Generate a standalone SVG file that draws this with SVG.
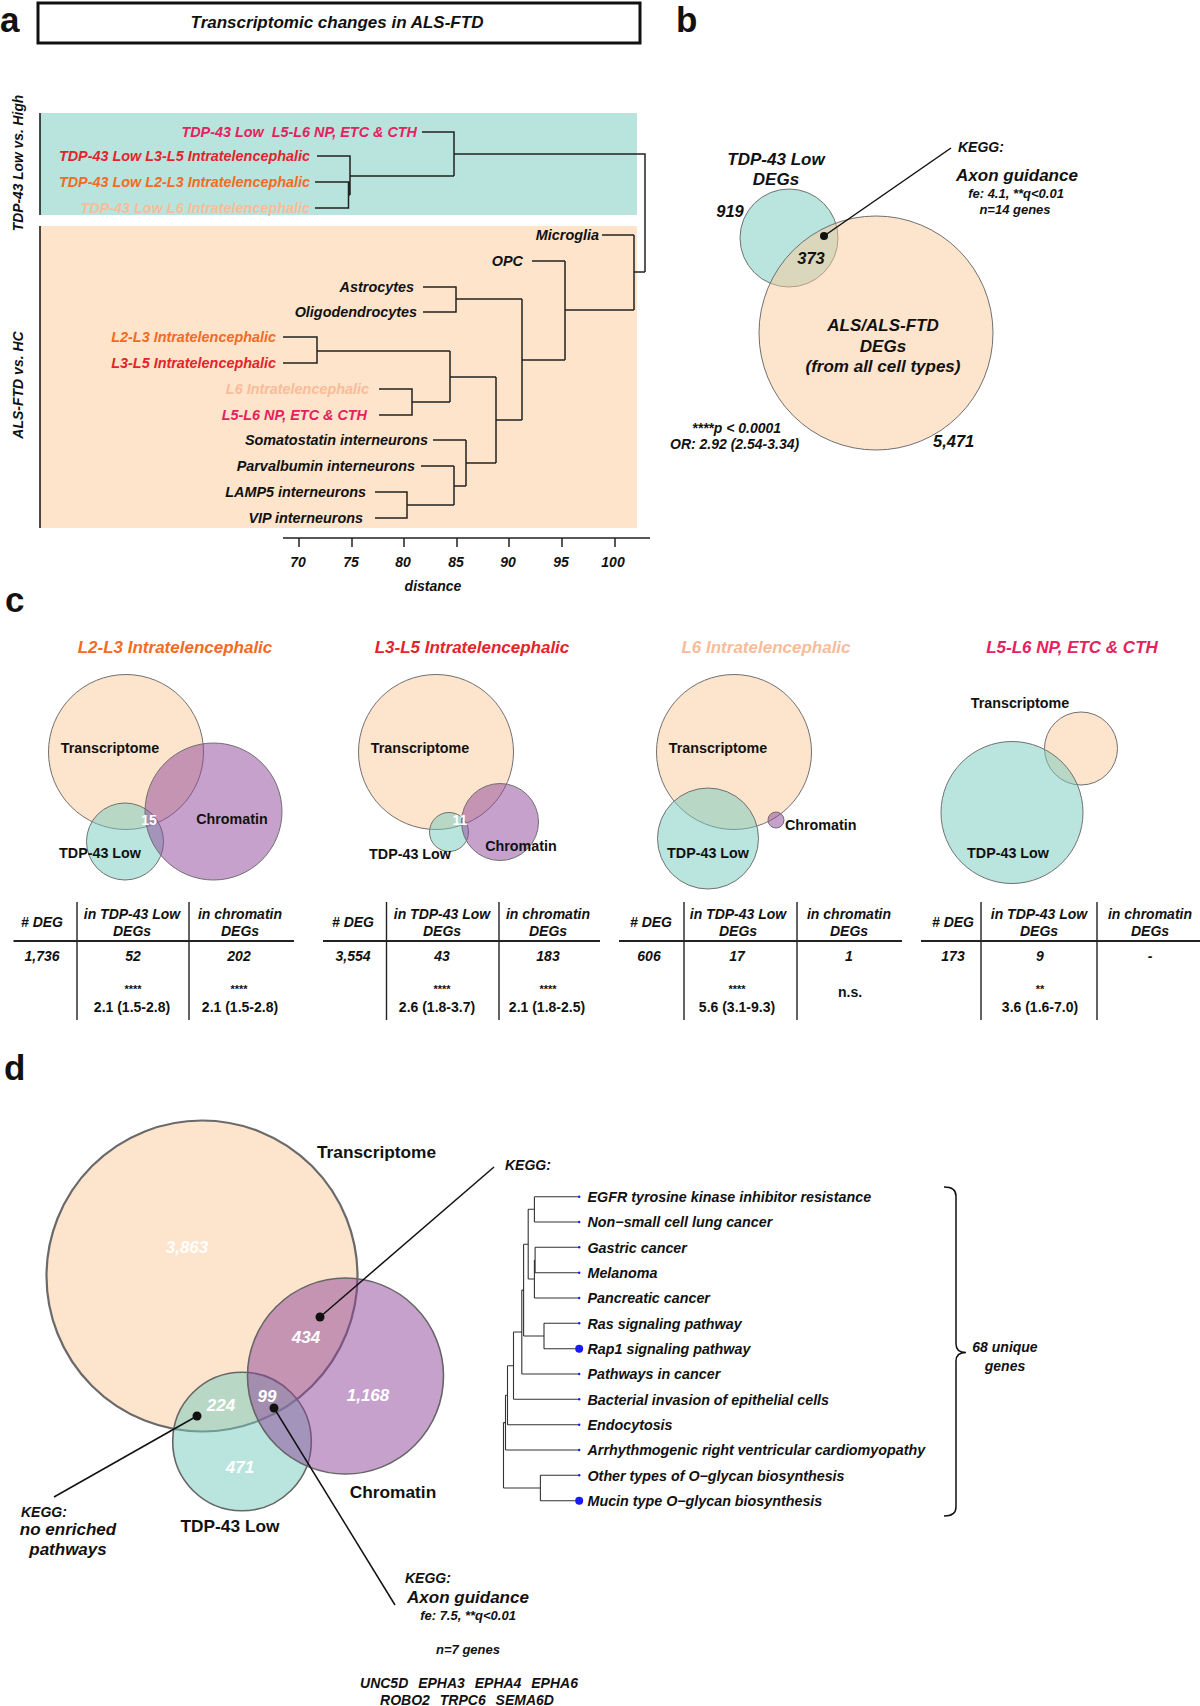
<svg xmlns="http://www.w3.org/2000/svg" width="1200" height="1706" viewBox="0 0 1200 1706">
<style>
text{font-family:"Liberation Sans",Arial,Helvetica,sans-serif;fill:#111}
.bi{font-weight:bold;font-style:italic}
.b{font-weight:bold}
.lab{font-weight:bold;font-size:35px}
.dl{font-weight:bold;font-style:italic;font-size:14.4px;text-anchor:end}
.ln{fill:none;stroke:#222;stroke-width:1.5}
.tl{fill:none;stroke:#333;stroke-width:1.1}
.pe{fill:#fbc999;fill-opacity:.5}
.te{fill:#73cbbd;fill-opacity:.5}
.pu{fill:#8d4399;fill-opacity:.5}
.vs{stroke:#707070;stroke-width:1}
.vd{stroke:#666;stroke-width:1.6}
.m{text-anchor:middle}
.w{fill:#fff}
.c1{fill:#e5225d}.c2{fill:#e3242b}.c3{fill:#f36b23}.c4{fill:#f9bc9a}
.tb{fill:none;stroke:#222;stroke-width:1.4}
.th{font-weight:bold;font-style:italic;font-size:14px;text-anchor:middle}
.tv{font-weight:bold;font-size:14px;text-anchor:middle}
.st{font-weight:bold;font-size:11px;text-anchor:middle}
.ptr{stroke:#111;stroke-width:1.5;fill:none}
.lf{font-weight:bold;font-style:italic;font-size:14.3px}
</style>

<!-- Panel a -->
<g id="panel-a">
<text class="lab" x="0" y="32">a</text>
<g id="title-box">
<rect x="38" y="3" width="602" height="40" fill="#fff" stroke="#111" stroke-width="3"/>
<text class="bi m" x="337" y="28" font-size="17">Transcriptomic changes in ALS-FTD</text>
</g>
<rect x="40" y="113" width="597" height="102" fill="#b8e4dd"/>
<rect x="40" y="226" width="597" height="302" fill="#fde4cb"/>
<line x1="40" y1="113" x2="40" y2="215" stroke="#111" stroke-width="1.5"/>
<line x1="40" y1="226" x2="40" y2="528" stroke="#111" stroke-width="1.5"/>
<text class="bi m" font-size="13.8" transform="translate(23,163) rotate(-90)">TDP-43 Low vs. High</text>
<text class="bi m" font-size="14" transform="translate(23,385) rotate(-90)">ALS-FTD vs. HC</text>

<g id="leaf-labels">
<text class="dl c1" x="417" y="137" xml:space="preserve" style="white-space:pre">TDP-43 Low  L5-L6 NP, ETC &amp; CTH</text>
<text class="dl c2" x="310" y="161">TDP-43 Low L3-L5 Intratelencephalic</text>
<text class="dl c3" x="310" y="187">TDP-43 Low L2-L3 Intratelencephalic</text>
<text class="dl c4" x="310" y="213">TDP-43 Low L6 Intratelencephalic</text>
<text class="dl" x="599" y="240">Microglia</text>
<text class="dl" x="523" y="266">OPC</text>
<text class="dl" x="414" y="292">Astrocytes</text>
<text class="dl" x="417" y="317">Oligodendrocytes</text>
<text class="dl c3" x="276" y="342">L2-L3 Intratelencephalic</text>
<text class="dl c2" x="276" y="368">L3-L5 Intratelencephalic</text>
<text class="dl c4" x="369" y="394">L6 Intratelencephalic</text>
<text class="dl c1" x="367" y="420">L5-L6 NP, ETC &amp; CTH</text>
<text class="dl" x="428" y="445">Somatostatin interneurons</text>
<text class="dl" x="415" y="471">Parvalbumin interneurons</text>
<text class="dl" x="366" y="497">LAMP5 interneurons</text>
<text class="dl" x="363" y="523">VIP interneurons</text>
</g>

<g id="dendrogram-links">
<path class="ln" d="M422,132H454V176 M317,156H350V195 M315,182H348.5V208H315 M348.5,195H350 M350,176H454 M454,154H645V272 M634,272H645"/>
<path class="ln" d="M602,235H634 M532,261H565 M423,287H456V312H423 M456,299H522 M283,337H317V363H283 M317,351H450 M379,389H412V415H379 M412,402H450 M450,351V402 M450,377H496 M433,440H466 M421,466H454 M375,492H407V518H375 M407,505H454 M454,466V505 M454,486H466 M466,440V486 M466,463H496 M496,377V463 M496,420H522 M522,299V420 M522,360H565 M565,261V360 M565,310H634 M634,235V310"/>
</g>

<g id="axis">
<path class="ln" d="M283,538H650 M299,538V547 M352,538V547 M404,538V547 M457,538V547 M509,538V547 M562,538V547 M615,538V547"/>
<g class="bi m" font-size="14">
<text class="bi m" x="298" y="567">70</text>
<text class="bi m" x="351" y="567">75</text>
<text class="bi m" x="403" y="567">80</text>
<text class="bi m" x="456" y="567">85</text>
<text class="bi m" x="508" y="567">90</text>
<text class="bi m" x="561" y="567">95</text>
<text class="bi m" x="613" y="567">100</text>
</g>
<text class="bi m" x="433" y="591" font-size="14">distance</text>
</g>
</g>

<!-- Panel b -->
<g id="panel-b">
<text class="lab" x="676" y="32">b</text>
<circle class="te vs" cx="789" cy="238" r="49"/>
<circle class="pe vs" cx="876" cy="333" r="117"/>
<g font-size="17">
<text class="bi m" x="776" y="165" font-size="17">TDP-43 Low</text>
<text class="bi m" x="776" y="185" font-size="17">DEGs</text>
<text class="bi m" x="730" y="217" font-size="16.5">919</text>
<text class="bi m" x="811" y="264" font-size="16.5">373</text>
<text class="bi m" x="883" y="331" font-size="17">ALS/ALS-FTD</text>
<text class="bi m" x="883" y="352" font-size="17">DEGs</text>
<text class="bi m" x="883" y="372" font-size="17">(from all cell types)</text>
<text class="bi" x="933" y="447" font-size="16.5">5,471</text>
</g>
<line class="ptr" x1="824" y1="236" x2="951" y2="148"/>
<circle cx="824" cy="236" r="4" fill="#111"/>
<text class="bi" x="958" y="152" font-size="14">KEGG:</text>
<text class="bi m" x="1017" y="181" font-size="17">Axon guidance</text>
<text class="bi m" x="1016" y="198" font-size="13">fe: 4.1, **q&lt;0.01</text>
<text class="bi m" x="1015" y="214" font-size="13">n=14 genes</text>
<text class="bi" x="692" y="433" font-size="14">****p &lt; 0.0001</text>
<text class="bi" x="670" y="449" font-size="14">OR: 2.92 (2.54-3.34)</text>
</g>

<!-- Panel c -->
<g id="panel-c">
<text class="lab" x="5" y="612">c</text>

<g id="venn-c1">
<text class="bi m c3" x="175" y="653" font-size="17">L2-L3 Intratelencephalic</text>
<circle class="pe vs" cx="126" cy="752" r="77.5"/>
<circle class="te vs" cx="125" cy="841.5" r="38.5"/>
<circle class="pu vs" cx="213.5" cy="811.5" r="68.5"/>
<text class="b m" x="110" y="753" font-size="14.3">Transcriptome</text>
<text class="b m" x="232" y="824" font-size="14.3">Chromatin</text>
<text class="b m" x="100" y="858" font-size="14.3">TDP-43 Low</text>
<text class="b m w" x="149" y="825" font-size="14">15</text>
</g>

<g id="venn-c2">
<text class="bi m c2" x="472" y="653" font-size="17">L3-L5 Intratelencephalic</text>
<circle class="pe vs" cx="436" cy="752" r="77.5"/>
<circle class="te vs" cx="449" cy="832" r="19.5"/>
<circle class="pu vs" cx="500" cy="822" r="38.5"/>
<text class="b m" x="420" y="753" font-size="14.3">Transcriptome</text>
<text class="b m" x="521" y="851" font-size="14.3">Chromatin</text>
<text class="b m" x="410" y="859" font-size="14.3">TDP-43 Low</text>
<text class="b m w" x="460" y="825" font-size="14">11</text>
</g>

<g id="venn-c3">
<text class="bi m c4" x="766" y="653" font-size="17">L6 Intratelencephalic</text>
<circle class="pe vs" cx="734" cy="752" r="77.5"/>
<circle class="te vs" cx="708" cy="838.5" r="50.5"/>
<circle class="pu vs" cx="776" cy="820" r="8"/>
<text class="b m" x="718" y="753" font-size="14.3">Transcriptome</text>
<text class="b" x="785" y="830" font-size="14.3">Chromatin</text>
<text class="b m" x="708" y="858" font-size="14.3">TDP-43 Low</text>
</g>

<g id="venn-c4">
<text class="bi m c1" x="1072" y="653" font-size="17">L5-L6 NP, ETC &amp; CTH</text>
<circle class="pe vs" cx="1081" cy="748.5" r="36.5"/>
<circle class="te vs" cx="1012" cy="812.5" r="71"/>
<text class="b m" x="1020" y="708" font-size="14.3">Transcriptome</text>
<text class="b m" x="1008" y="858" font-size="14.3">TDP-43 Low</text>
</g>

<g id="table-c1">
<path class="tb" d="M77,902V1020 M189,902V1020"/>
<line x1="13.5" y1="941" x2="294" y2="941" stroke="#222" stroke-width="2.2"/>
<text class="th" x="42" y="927"># DEG</text>
<text class="th" x="132" y="919">in TDP-43 Low</text><text class="th" x="132" y="936">DEGs</text>
<text class="th" x="240" y="919">in chromatin</text><text class="th" x="240" y="936">DEGs</text>
<text class="th" x="42" y="961">1,736</text><text class="th" x="133" y="961">52</text><text class="th" x="239" y="961">202</text>
<text class="st" x="133" y="993">****</text><text class="st" x="239" y="993">****</text>
<text class="tv" x="132" y="1012">2.1 (1.5-2.8)</text><text class="tv" x="240" y="1012">2.1 (1.5-2.8)</text>
</g>

<g id="table-c2">
<path class="tb" d="M386.5,902V1020 M499,902V1020"/>
<line x1="323" y1="941" x2="600" y2="941" stroke="#222" stroke-width="2.2"/>
<text class="th" x="353" y="927"># DEG</text>
<text class="th" x="442" y="919">in TDP-43 Low</text><text class="th" x="442" y="936">DEGs</text>
<text class="th" x="548" y="919">in chromatin</text><text class="th" x="548" y="936">DEGs</text>
<text class="th" x="353" y="961">3,554</text><text class="th" x="442" y="961">43</text><text class="th" x="548" y="961">183</text>
<text class="st" x="442" y="993">****</text><text class="st" x="548" y="993">****</text>
<text class="tv" x="437" y="1012">2.6 (1.8-3.7)</text><text class="tv" x="547" y="1012">2.1 (1.8-2.5)</text>
</g>

<g id="table-c3">
<path class="tb" d="M684,902V1020 M797,902V1020"/>
<line x1="619" y1="941" x2="902" y2="941" stroke="#222" stroke-width="2.2"/>
<text class="th" x="651" y="927"># DEG</text>
<text class="th" x="738" y="919">in TDP-43 Low</text><text class="th" x="738" y="936">DEGs</text>
<text class="th" x="849" y="919">in chromatin</text><text class="th" x="849" y="936">DEGs</text>
<text class="th" x="649" y="961">606</text><text class="th" x="737" y="961">17</text><text class="th" x="849" y="961">1</text>
<text class="st" x="737" y="993">****</text><text class="tv" x="850" y="997">n.s.</text>
<text class="tv" x="737" y="1012">5.6 (3.1-9.3)</text>
</g>

<g id="table-c4">
<path class="tb" d="M981,902V1020 M1097,902V1020"/>
<line x1="921" y1="941" x2="1200" y2="941" stroke="#222" stroke-width="2.2"/>
<text class="th" x="953" y="927"># DEG</text>
<text class="th" x="1039" y="919">in TDP-43 Low</text><text class="th" x="1039" y="936">DEGs</text>
<text class="th" x="1150" y="919">in chromatin</text><text class="th" x="1150" y="936">DEGs</text>
<text class="th" x="953" y="961">173</text><text class="th" x="1040" y="961">9</text><text class="th" x="1150" y="961">-</text>
<text class="st" x="1040" y="993">**</text>
<text class="tv" x="1040" y="1012">3.6 (1.6-7.0)</text>
</g>
</g>

<!-- Panel d -->
<g id="panel-d">
<text class="lab" x="4" y="1080">d</text>
<g id="venn-d">
<circle class="pe" cx="202" cy="1276" r="155.5" stroke="#6a6a6a" stroke-width="2.2"/>
<circle class="te vd" cx="242" cy="1441.5" r="69.3"/>
<circle class="pu vd" cx="345.5" cy="1376" r="98"/>
<text class="b" x="317" y="1158" font-size="17.3">Transcriptome</text>
<text class="b m" x="393" y="1498" font-size="17.3">Chromatin</text>
<text class="b m" x="230" y="1532" font-size="17.3">TDP-43 Low</text>
<g font-size="17">
<text class="bi m w" x="187" y="1253" font-size="17">3,863</text>
<text class="bi m w" x="306" y="1343" font-size="17">434</text>
<text class="bi m w" x="368" y="1401" font-size="17">1,168</text>
<text class="bi m w" x="221" y="1411" font-size="17">224</text>
<text class="bi m w" x="267" y="1402" font-size="17">99</text>
<text class="bi m w" x="240" y="1473" font-size="17">471</text>
</g>
</g>
<g id="pointers">
<line class="ptr" x1="320" y1="1317" x2="494" y2="1167"/>
<circle cx="320" cy="1317" r="4.5" fill="#111"/>
<line class="ptr" x1="197" y1="1416" x2="54" y2="1497"/>
<circle cx="197" cy="1416" r="4.5" fill="#111"/>
<line class="ptr" x1="274" y1="1408" x2="395" y2="1605"/>
<circle cx="274" cy="1408" r="4.5" fill="#111"/>
</g>
<text class="bi" x="505" y="1170" font-size="14">KEGG:</text>
<text class="bi" x="21" y="1517" font-size="14">KEGG:</text>
<text class="bi m" x="68" y="1535" font-size="17">no enriched</text>
<text class="bi m" x="68" y="1555" font-size="17">pathways</text>
<text class="bi" x="405" y="1583" font-size="14">KEGG:</text>
<text class="bi m" x="468" y="1603" font-size="17">Axon guidance</text>
<text class="bi m" x="468" y="1620" font-size="13">fe: 7.5, **q&lt;0.01</text>
<text class="bi m" x="468" y="1654" font-size="13">n=7 genes</text>
<text class="bi m" x="469" y="1688" font-size="14" word-spacing="6">UNC5D EPHA3 EPHA4 EPHA6</text>
<text class="bi m" x="467" y="1705" font-size="14" word-spacing="6">ROBO2 TRPC6 SEMA6D</text>

<g id="kegg-tree">
<path class="tl" d="M534.4,1196.7H579.2 M534.4,1222H579.2 M534.4,1196.7V1222 M535.1,1247.3H579.2 M535.1,1272.7H579.2 M535.1,1247.3V1272.7 M534.4,1298H579.2 M534.4,1260V1298 M534.4,1260H535.1 M528.2,1209.3V1279 M528.2,1209.3H534.4 M528.2,1279H534.4 M544,1323.3H579.2 M544,1348.7H579.2 M544,1323.3V1348.7 M523.6,1244.2V1336 M523.6,1244.2H528.2 M523.6,1336H544 M521.8,1290.1V1374 M521.8,1290.1H523.6 M521.8,1374H579.2 M513.5,1332V1399.3 M513.5,1332H521.8 M513.5,1399.3H579.2 M507.5,1365.7V1424.7 M507.5,1365.7H513.5 M507.5,1424.7H579.2 M505.5,1395.2V1450 M505.5,1395.2H507.5 M505.5,1450H579.2 M540.4,1475.3H579.2 M540.4,1500.7H579.2 M540.4,1475.3V1500.7 M503.5,1422.6V1488 M503.5,1422.6H505.5 M503.5,1488H540.4"/>
<g fill="#1a1aff">
<circle cx="579.2" cy="1196.7" r="1.2"/><circle cx="579.2" cy="1222" r="1.2"/><circle cx="579.2" cy="1247.3" r="1.2"/><circle cx="579.2" cy="1272.7" r="1.2"/><circle cx="579.2" cy="1298" r="1.2"/><circle cx="579.2" cy="1323.3" r="1.2"/><circle cx="579.2" cy="1348.7" r="4"/><circle cx="579.2" cy="1374" r="1.2"/><circle cx="579.2" cy="1399.3" r="1.2"/><circle cx="579.2" cy="1424.7" r="1.2"/><circle cx="579.2" cy="1450" r="1.2"/><circle cx="579.2" cy="1475.3" r="1.2"/><circle cx="579.2" cy="1500.7" r="4"/>
</g>
<text class="lf" x="587.5" y="1202">EGFR tyrosine kinase inhibitor resistance</text>
<text class="lf" x="587.5" y="1227">Non−small cell lung cancer</text>
<text class="lf" x="587.5" y="1252.5">Gastric cancer</text>
<text class="lf" x="587.5" y="1278">Melanoma</text>
<text class="lf" x="587.5" y="1303">Pancreatic cancer</text>
<text class="lf" x="587.5" y="1328.5">Ras signaling pathway</text>
<text class="lf" x="587.5" y="1354">Rap1 signaling pathway</text>
<text class="lf" x="587.5" y="1379">Pathways in cancer</text>
<text class="lf" x="587.5" y="1404.5">Bacterial invasion of epithelial cells</text>
<text class="lf" x="587.5" y="1430">Endocytosis</text>
<text class="lf" x="587.5" y="1455">Arrhythmogenic right ventricular cardiomyopathy</text>
<text class="lf" x="587.5" y="1480.5">Other types of O−glycan biosynthesis</text>
<text class="lf" x="587.5" y="1506">Mucin type O−glycan biosynthesis</text>
</g>
<g id="bracket">
<path d="M944,1187Q956,1187 956,1196V1344Q956,1352.5 966,1352.5Q956,1352.5 956,1361V1507Q956,1516 944,1516" fill="none" stroke="#111" stroke-width="1.5"/>
<text class="bi m" x="1005" y="1352" font-size="14">68 unique</text>
<text class="bi m" x="1005" y="1371" font-size="14">genes</text>
</g>
</g>
</svg>
